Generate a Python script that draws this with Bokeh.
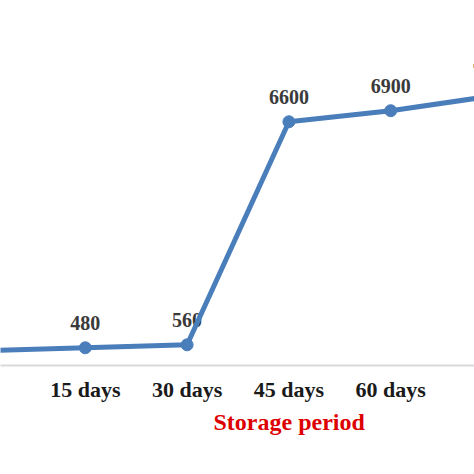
from bokeh.plotting import figure
from bokeh.models import Range1d, ColumnDataSource, FixedTicker, Title
from bokeh.core.properties import value
from bokeh.embed import file_html
from bokeh.resources import INLINE

categories = ["Initial", "15 days", "30 days", "45 days", "60 days", "75 days"]
counts = [400, 480, 560, 6600, 6900, 7300]
count_labels = ["400", "480", "560", "6600", "6900", "7300"]
axis_title = "Storage period"

xs = list(range(len(categories)))
src = ColumnDataSource(dict(x=xs, y=counts, t=count_labels))

W, H = 474, 474
p = figure(width=W, height=H, output_backend="svg", toolbar_location=None,
           x_range=Range1d(0.167, 4.823), y_range=Range1d(0, 9884),
           min_border_left=0, min_border_right=0, min_border_top=0,
           min_border_bottom=109, outline_line_color=None)
p.grid.visible = False
p.yaxis.visible = False

xa = p.xaxis[0]
xa.ticker = FixedTicker(ticks=xs)
xa.major_label_overrides = {i: c for i, c in enumerate(categories)}
xa.axis_line_color = "#d9d9d9"
xa.axis_line_width = 2
xa.major_tick_line_color = None
xa.minor_tick_line_color = None
xa.major_label_standoff = 5
xa.major_label_text_font = "Liberation Serif"
xa.major_label_text_font_style = "bold"
xa.major_label_text_font_size = "22px"
xa.major_label_text_color = "#1a1a1a"

p.text(x="x", y="y", text="t", source=src, y_offset=-25,
       text_align="center", text_baseline="middle",
       text_font=value("Liberation Serif"), text_font_style="bold",
       text_font_size="20px", text_color="#3a3a3a")
p.line(x="x", y="y", source=src, line_color="#4a7ebb", line_width=5)
p.scatter(x="x", y="y", source=src, size=12, fill_color="#4a7ebb", line_color="#4a7ebb")

p.add_layout(Title(text=axis_title, align="left", offset=213, standoff=4,
                   text_font="Liberation Serif", text_font_style="bold",
                   text_font_size="24px", text_color="#dd0000"), "below")

open("out.html", "w").write(file_html(p, INLINE))
